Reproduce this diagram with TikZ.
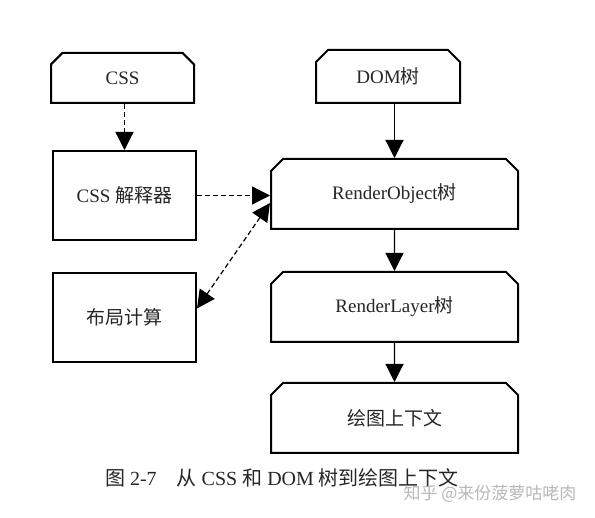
\documentclass[tikz,border=0pt]{standalone}
\usepackage{fontspec}
\setmainfont{Liberation Serif}
\newfontfamily\cjk{Noto Sans CJK SC}
\usetikzlibrary{arrows.meta,shapes.misc}

\begin{document}
\begin{tikzpicture}[x=1pt,y=-1pt,
  every node/.style = {font=\fontsize{19}{21}\selectfont, text=black!85},
  plainbox/.style = {draw, line width=2pt, rectangle, fill=white,
    minimum width=143pt, minimum height=89pt, inner sep=0pt},
  cutbox/.style = {draw, line width=2pt, chamfered rectangle,
    chamfered rectangle corners={north west,north east},
    chamfered rectangle xsep=7pt, chamfered rectangle ysep=5pt,
    fill=white, inner sep=0pt},
  arr/.style = {line width=1.2pt, -{Triangle[length=18pt,width=18pt]}},
  dasharr/.style = {arr, dash pattern=on 5pt off 3pt}]
  \useasboundingbox (0,0) rectangle (595,518);

  \node[cutbox, minimum width=143pt, minimum height=50pt] (css) at (122.5,78) {CSS};
  \node[plainbox] (parser) at (124.5,195.5) {CSS {\cjk 解释器}};
  \node[plainbox] (layout) at (124.5,317.5) {\cjk 布局计算};

  \node[cutbox, minimum width=144pt, minimum height=53pt] (dom) at (388,76.5) {DOM{\cjk 树}};
  \node[cutbox, minimum width=247pt, minimum height=70pt] (ro) at (394.5,194) {RenderObject{\cjk 树}};
  \node[cutbox, minimum width=247pt, minimum height=70pt] (rl) at (394.5,307) {RenderLayer{\cjk 树}};
  \node[cutbox, minimum width=247pt, minimum height=70pt] (ctx) at (394.5,418) {\cjk 绘图上下文};

  \draw[dasharr] (parser.north |- css.south) -- (parser.north);
  \draw[dasharr] (parser.east) -- (parser.east -| ro.west);
  \draw[dasharr, {Triangle[length=18pt,width=18pt]}-{Triangle[length=18pt,width=18pt]}]
    ([yshift=9pt]layout.east) -- ([yshift=-9pt]ro.west);
  \draw[arr] (ro.north |- dom.south) -- (ro.north);
  \draw[arr] (ro) -- (rl);
  \draw[arr] (rl) -- (ctx);

  \node[font=\fontsize{20}{22}\selectfont] (caption) at (282,478)
    {{\cjk 图} 2-7\quad {\cjk 从} CSS {\cjk 和} DOM {\cjk 树到绘图上下文}};
  \node[anchor=west, font=\cjk\fontsize{17}{19}\selectfont, text=gray!70, opacity=0.8]
    (mark) at (400,494) {知乎 @来份菠萝咕咾肉};
\end{tikzpicture}
\end{document}
